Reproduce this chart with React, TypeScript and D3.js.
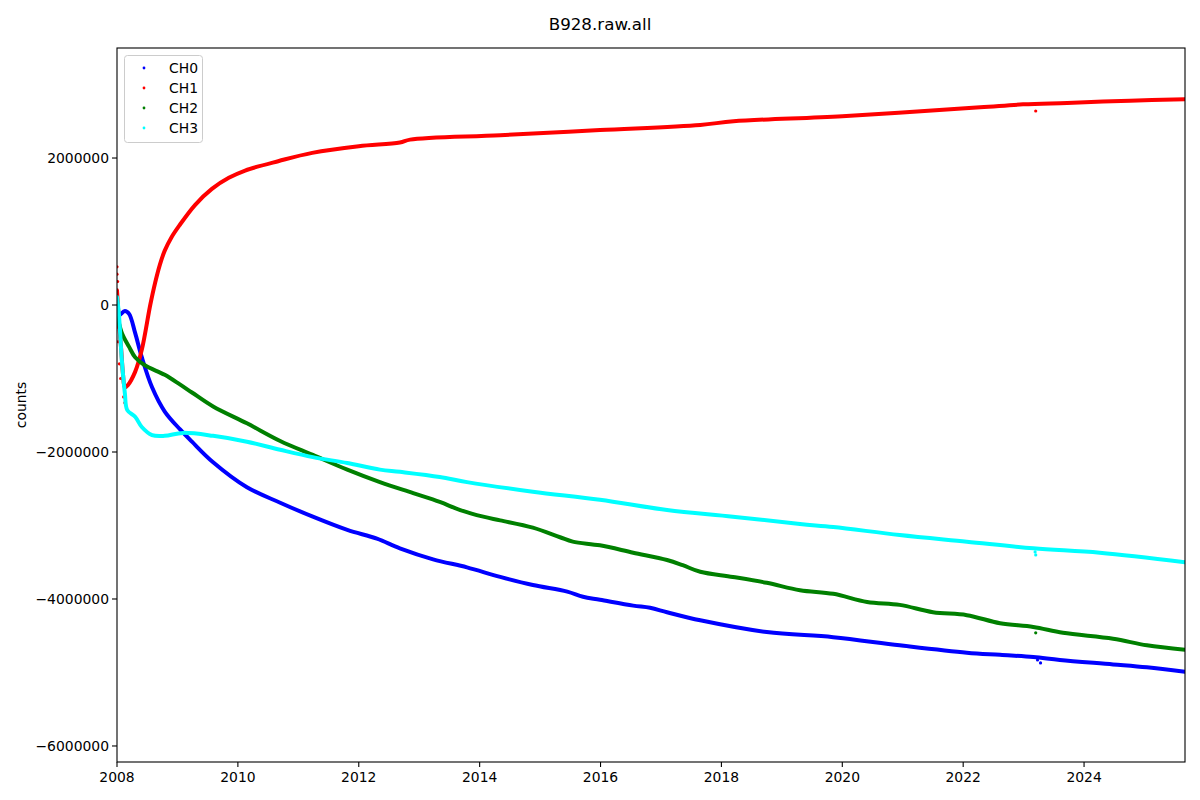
import React from "react";
import * as d3 from "d3";

type P = [number, number];

const title = "B928.raw.all";
const yLabel = "counts";
const seriesNames = ["CH0", "CH1", "CH2", "CH3"];
const seriesColors = ["#0000ff", "#ff0000", "#008000", "#00ffff"];
const xTicks = [2008, 2010, 2012, 2014, 2016, 2018, 2020, 2022, 2024];
const yTicks = [2000000, 0, -2000000, -4000000, -6000000];
const xDomain: P = [2008.0, 2025.67];
const yDomain: P = [-6218000, 3497000];

// [decimal year, counts]
const ch0: P[] = [
  [2008.0, -70000], [2008.03, -140000], [2008.13, -80000], [2008.2, -120000],
  [2008.3, -380000], [2008.41, -710000], [2008.58, -1120000], [2008.79, -1450000],
  [2009.04, -1690000], [2009.24, -1860000], [2009.59, -2140000], [2010.15, -2480000],
  [2010.7, -2690000], [2011.24, -2880000], [2011.81, -3060000], [2012.3, -3180000],
  [2012.68, -3310000], [2013.23, -3460000], [2013.79, -3570000], [2014.34, -3700000],
  [2014.88, -3810000], [2015.45, -3900000], [2015.71, -3970000], [2015.99, -4010000],
  [2016.54, -4090000], [2016.82, -4120000], [2017.1, -4180000], [2017.65, -4290000],
  [2018.75, -4450000], [2019.85, -4520000], [2020.95, -4630000], [2022.06, -4730000],
  [2022.61, -4760000], [2023.16, -4790000], [2023.6, -4830000], [2024.48, -4890000],
  [2025.04, -4930000], [2025.67, -4990000],
];
const ch1: P[] = [
  [2008.0, 200000], [2008.03, -200000], [2008.07, -610000], [2008.1, -950000],
  [2008.13, -1120000], [2008.18, -1090000], [2008.3, -910000], [2008.41, -610000],
  [2008.55, 0], [2008.63, 300000], [2008.71, 550000], [2008.79, 740000],
  [2008.9, 920000], [2009.03, 1080000],
  [2009.29, 1360000], [2009.57, 1580000], [2009.85, 1730000], [2010.12, 1830000],
  [2010.68, 1960000], [2011.23, 2070000], [2012.0, 2160000],
  [2012.68, 2210000], [2012.85, 2250000], [2014.34, 2310000], [2015.99, 2380000],
  [2017.65, 2450000], [2018.2, 2500000], [2020.0, 2570000], [2022.28, 2690000],
  [2022.99, 2730000], [2023.72, 2750000], [2024.76, 2780000], [2025.67, 2800000],
];
const ch2: P[] = [
  [2008.0, -140000], [2008.08, -380000], [2008.2, -570000], [2008.3, -710000],
  [2008.46, -820000], [2008.79, -950000], [2009.04, -1080000], [2009.24, -1190000],
  [2009.59, -1380000], [2010.15, -1610000], [2010.7, -1850000], [2011.24, -2040000],
  [2011.81, -2240000], [2012.35, -2410000], [2012.9, -2560000], [2013.34, -2680000],
  [2013.68, -2790000], [2014.06, -2880000], [2014.34, -2930000], [2014.88, -3030000],
  [2015.33, -3160000], [2015.54, -3220000], [2015.99, -3270000], [2016.54, -3370000],
  [2017.1, -3470000], [2017.36, -3540000], [2017.65, -3630000], [2018.19, -3700000],
  [2018.75, -3780000], [2019.3, -3880000], [2019.85, -3930000], [2020.41, -4040000],
  [2020.95, -4080000], [2021.5, -4180000], [2022.06, -4220000], [2022.61, -4330000],
  [2023.16, -4380000], [2023.65, -4460000], [2024.48, -4540000], [2025.04, -4630000],
  [2025.67, -4690000],
];
const ch3: P[] = [
  [2008.0, 110000], [2008.03, -110000], [2008.08, -750000], [2008.13, -1200000],
  [2008.17, -1430000], [2008.3, -1520000], [2008.41, -1660000], [2008.58, -1770000],
  [2008.79, -1780000], [2009.09, -1740000], [2009.59, -1780000], [2010.15, -1860000],
  [2010.7, -1970000], [2011.24, -2070000], [2011.81, -2150000], [2012.35, -2240000],
  [2012.68, -2270000], [2013.34, -2340000], [2013.79, -2410000], [2014.88, -2540000],
  [2015.99, -2650000], [2017.1, -2790000], [2018.19, -2880000], [2019.3, -2980000],
  [2019.85, -3020000], [2020.95, -3130000], [2022.06, -3220000], [2023.16, -3310000],
  [2024.26, -3370000], [2025.67, -3500000],
];
// isolated outlier samples
const ch0Out: P[] = [[2023.23, -4830000], [2023.28, -4870000]];
const ch1Out: P[] = [
  [2008.0, 520000], [2008.0, 420000], [2008.01, 320000], [2008.01, -300000],
  [2008.02, -500000], [2008.04, -800000], [2008.06, -1000000], [2008.11, -1250000],
  [2008.13, -1330000], [2023.2, 2640000],
];
const ch2Out: P[] = [[2023.2, -4460000]];
const ch3Out: P[] = [[2023.19, -3360000], [2023.2, -3400000]];

const series = [ch0, ch1, ch2, ch3];
const outliers = [ch0Out, ch1Out, ch2Out, ch3Out];

const W = 1200, H = 800;
const L = 117, R = 1185, T = 48, B = 762;
const FONT = "DejaVu Sans, sans-serif";

export default function App() {
  const x = d3.scaleLinear().domain(xDomain).range([L, R]);
  const y = d3.scaleLinear().domain(yDomain).range([B, T]);
  const line = d3
    .line<P>()
    .x((d) => x(d[0]))
    .y((d) => y(d[1]))
    .curve(d3.curveCatmullRom.alpha(0.5));
  const fmtY = (v: number) => (v < 0 ? "\u2212" + String(Math.abs(v)) : String(v));

  return (
    <svg
      width={W}
      height={H}
      style={{ position: "absolute", left: 0, top: 0, background: "#fff" }}
      fontFamily={FONT}
    >
      <defs>
        <clipPath id="plotclip">
          <rect x={L} y={T} width={R - L} height={B - T} />
        </clipPath>
      </defs>
      <rect x={0} y={0} width={W} height={H} fill="#fff" />
      <text x={600} y={30} textAnchor="middle" fontSize={16.7} fill="#000">
        {title}
      </text>

      <g clipPath="url(#plotclip)">
        {series.map((s, i) => (
          <g key={i}>
            <path d={line(s) || ""} fill="none" stroke={seriesColors[i]} strokeWidth={4} strokeLinejoin="round" strokeLinecap="round" />
            {outliers[i].map((p, j) => (
              <circle key={j} cx={x(p[0])} cy={y(p[1])} r={1.6} fill={seriesColors[i]} />
            ))}
          </g>
        ))}
      </g>

      {/* spines */}
      <rect x={L} y={T} width={R - L} height={B - T} fill="none" stroke="#000" strokeWidth={1.1} />

      {/* x ticks */}
      {xTicks.map((t) => (
        <g key={t} transform={`translate(${x(t)},${B})`}>
          <line y1={0} y2={5} stroke="#000" strokeWidth={1.1} />
          <text y={19.5} textAnchor="middle" fontSize={13.9} fill="#000">
            {t}
          </text>
        </g>
      ))}
      {/* y ticks */}
      {yTicks.map((t) => (
        <g key={t} transform={`translate(${L},${y(t)})`}>
          <line x1={0} x2={-5} stroke="#000" strokeWidth={1.1} />
          <text x={-8} dy="0.35em" textAnchor="end" fontSize={13.9} fill="#000">
            {fmtY(t)}
          </text>
        </g>
      ))}
      <text
        transform={`translate(26,${(T + B) / 2}) rotate(-90)`}
        textAnchor="middle"
        fontSize={13.9}
        fill="#000"
      >
        {yLabel}
      </text>

      {/* legend */}
      <g>
        <rect x={124.5} y={55.5} width={78} height={87} rx={3} fill="#fff" fillOpacity={0.8} stroke="#cccccc" />
        {seriesNames.map((n, i) => (
          <g key={n} transform={`translate(0,${68 + i * 20})`}>
            <circle cx={144} cy={0} r={1.4} fill={seriesColors[i]} />
            <text x={169} dy="0.35em" fontSize={13.9} fill="#000">
              {n}
            </text>
          </g>
        ))}
      </g>
    </svg>
  );
}
